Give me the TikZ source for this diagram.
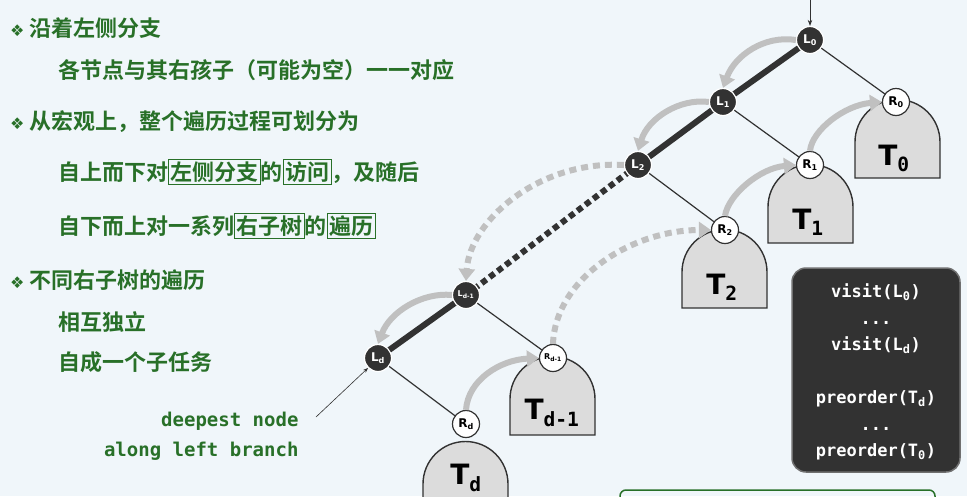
\documentclass[tikz,border=0pt]{standalone}
\usepackage{fontspec}
\setmainfont{Noto Sans CJK SC}[BoldFont={* Bold}]
\newfontfamily\cjk{Noto Sans CJK SC}[BoldFont={* Bold}]
\newfontfamily\mymono{DejaVu Sans Mono}
\newfontfamily\mysans{DejaVu Sans}
\usetikzlibrary{arrows.meta}
\definecolor{bg}{RGB}{240,246,250}
\definecolor{gtxt}{RGB}{40,112,40}
\definecolor{garr}{RGB}{192,192,192}
\definecolor{dk}{RGB}{50,50,50}
\definecolor{mound}{RGB}{220,220,220}
\begin{document}
\begin{tikzpicture}[x=1pt,y=-1pt,
  Lnode/.style={circle,fill=dk,draw=white,line width=1.2pt,minimum size=27pt,inner sep=0pt,text=white,font=\mysans\bfseries\fontsize{12}{12}\selectfont},
  Rnode/.style={circle,fill=white,draw=dk,line width=1.2pt,minimum size=27pt,inner sep=0pt,text=black,font=\mysans\bfseries\fontsize{12}{12}\selectfont},
  edge/.style={draw=dk,line width=1.2pt},
  spine/.style={draw=dk,line width=6pt},
  dspine/.style={draw=dk,line width=6pt,dash pattern=on 6pt off 4pt},
  garrow/.style={draw=garr,line width=6pt,-{Triangle[length=12pt,width=16pt]}},
  gdarrow/.style={garrow,dash pattern=on 7pt off 5pt},
  moundst/.style={fill=mound,draw=dk,line width=1.4pt},
  tl/.style={font=\mysans\bfseries\fontsize{28}{28}\selectfont},
  ctext/.style={anchor=west,text=gtxt,font=\cjk\bfseries\fontsize{22}{24}\selectfont,inner sep=0pt},
  hbox/.style={draw=gtxt,line width=0.8pt,inner sep=2pt}
]
\fill[bg] (0,0) rectangle (967,496);
\useasboundingbox (0,0) rectangle (967,496);

\foreach \l/\b in {855/178, 768/243, 682/308, 510/435, 423/520}{
  \draw[moundst] (\l,\b) -- (\l,\b-36) arc(180:360:42.5) -- (\l+85,\b) -- cycle;
}
\node[tl] (T0) at (894,158) {T\textsubscript{\mymono 0}};
\node[tl] (T1) at (808,222) {T\textsubscript{\mymono 1}};
\node[tl] (T2) at (722,287) {T\textsubscript{\mymono 2}};
\node[tl] (Tdm) at (552,413) {T\textsubscript{\mymono d-1}};
\node[tl] (Td) at (466,478) {T\textsubscript{\mymono d}};

\coordinate (cL0) at (810,40);
\coordinate (cL1) at (723,102);
\coordinate (cL2) at (638,165);
\coordinate (cLdm) at (466,295);
\coordinate (cLd) at (378,358);

\draw[spine] (cL0) -- (cL1) -- (cL2);
\draw[dspine] (cL2) -- (cLdm);
\draw[spine] (cLdm) -- (cLd);

\draw[edge] (cL0) -- (896,102);
\draw[edge] (cL1) -- (810,165);
\draw[edge] (cL2) -- (725,230);
\draw[edge] (cLdm) -- (553,358);
\draw[edge] (cLd) -- (466,424);

\node[Lnode] (L0) at (cL0) {L\textsubscript{0}};
\node[Lnode] (L1) at (cL1) {L\textsubscript{1}};
\node[Lnode] (L2) at (cL2) {L\textsubscript{2}};
\node[Lnode,font=\mysans\bfseries\fontsize{8}{8}\selectfont] (Ldm) at (cLdm) {L\textsubscript{d-1}};
\node[Lnode] (Ld) at (cLd) {L\textsubscript{d}};
\node[Rnode] (R0) at (896,102) {R\textsubscript{0}};
\node[Rnode] (R1) at (810,165) {R\textsubscript{1}};
\node[Rnode] (R2) at (725,230) {R\textsubscript{2}};
\node[Rnode,font=\mysans\bfseries\fontsize{8}{8}\selectfont] (Rdm) at (553,358) {R\textsubscript{d-1}};
\node[Rnode] (Rd) at (466,424) {R\textsubscript{d}};

\draw[garrow] (L0.west) .. controls (765,35) and (735,55) .. (L1.north);
\draw[garrow] (L1.west) .. controls (680,98) and (648,118) .. (L2.north);
\draw[gdarrow] (L2.west) .. controls (540,160) and (470,220) .. (Ldm.north);
\draw[garrow] (Ldm.west) .. controls (422,292) and (390,312) .. (Ld.north);
\draw[garrow] (Rd.north) .. controls (468,380) and (500,360) .. (Rdm.west);
\draw[gdarrow] (Rdm.north) .. controls (555,280) and (630,230) .. (R2.west);
\draw[garrow] (R2.north) .. controls (728,195) and (760,168) .. (R1.west);
\draw[garrow] (R1.north) .. controls (812,130) and (845,105) .. (R0.west);

\coordinate (top) at (810,0);
\draw[dk,line width=0.8pt,-{Stealth[length=6pt]}] (top) -- (L0.north);

\node[align=right,anchor=east,text=gtxt,font=\mymono\bfseries\fontsize{19}{30}\selectfont] (deep) at (302,436) {deepest node\\along left branch};
\coordinate (dstart) at (316,417);
\draw[dk,line width=0.6pt,-{Stealth[length=5pt]}] (dstart) -- (Ld.south west);

\node[fill=dk,draw=dk!70,line width=1.5pt,rounded corners=14pt,minimum width=168pt,minimum height=204pt,inner sep=0pt] (box) at (876,370) {};
\node[text=white,font=\mymono\bfseries\fontsize{17}{26.5}\selectfont,align=center] (code) at (876,372)
{visit(L\textsubscript{0})\\...\\visit(L\textsubscript{d})\\[26.5pt]preorder(T\textsubscript{d})\\...\\preorder(T\textsubscript{0})};

\draw[gtxt,line width=1.5pt,rounded corners=6pt] (620,510) -- (620,490) -- (935,490) -- (935,510);

\node[ctext] (t1) at (10,28) {{\mysans\fontsize{16}{16}\selectfont ❖} 沿着左侧分支};
\node[ctext] (t2) at (58,70) {各节点与其右孩子（可能为空）一一对应};
\node[ctext] (t3) at (10,122) {{\mysans\fontsize{16}{16}\selectfont ❖} 从宏观上，整个遍历过程可划分为};
\node[ctext] (t4) at (58,172) {自上而下对\tikz[baseline]\node[hbox,anchor=base]{左侧分支};的\tikz[baseline]\node[hbox,anchor=base]{访问};，及随后};
\node[ctext] (t5) at (58,226) {自下而上对一系列\tikz[baseline]\node[hbox,anchor=base]{右子树};的\tikz[baseline]\node[hbox,anchor=base]{遍历};};
\node[ctext] (t6) at (10,280) {{\mysans\fontsize{16}{16}\selectfont ❖} 不同右子树的遍历};
\node[ctext] (t7) at (58,322) {相互独立};
\node[ctext] (t8) at (58,362) {自成一个子任务};
\end{tikzpicture}
\end{document}
